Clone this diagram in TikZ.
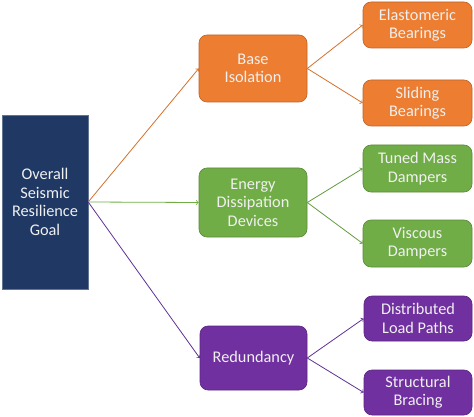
\documentclass[tikz,border=0pt]{standalone}
\usepackage{fontspec}
\setmainfont{Carlito}
\usepackage{tikz}
\definecolor{goalblue}{HTML}{1F3864}
\definecolor{isoorange}{HTML}{ED7D31}
\definecolor{dissgreen}{HTML}{70AD47}
\definecolor{redpurple}{HTML}{7030A0}

\begin{document}
\begin{tikzpicture}[x=1pt, y=-1pt,
	box/.style={rounded corners=8pt, align=center, text=white!94!black, line width=0.6pt,
		font=\fontsize{16.3}{18.4}\selectfont, inner sep=0pt},
	goalbox/.style={fill=goalblue, draw=goalblue!70!white, align=center, text=white!94!black,
		font=\fontsize{16.3}{18.4}\selectfont, minimum width=86pt, minimum height=174pt},
	isobox/.style={box, fill=isoorange, draw=isoorange!80!black},
	dissbox/.style={box, fill=dissgreen, draw=dissgreen!80!black},
	redbox/.style={box, fill=redpurple, draw=redpurple!80!black},
	link/.style={->, line width=0.8pt}]
			%%%%% START %%%%%
			
			\useasboundingbox[fill=white] (0, 0) rectangle (474, 417);
			
			\node[goalbox] (goal) at (45, 202) {Overall\\Seismic\\Resilience\\Goal};
			
			\node[isobox, minimum width=108pt, minimum height=67pt] (base) at (253, 68.5) {Base\\Isolation};
			\node[dissbox, minimum width=108pt, minimum height=69pt] (energy) at (253, 202.5) {Energy\\Dissipation\\Devices};
			\node[redbox, minimum width=107pt, minimum height=64pt] (redund) at (253.5, 358) {Redundancy};
			
			\node[isobox, minimum width=109pt, minimum height=46pt] (elasto) at (417.5, 25) {Elastomeric\\Bearings};
			\node[isobox, minimum width=109pt, minimum height=46pt] (sliding) at (417.5, 103) {Sliding\\Bearings};
			
			\node[dissbox, minimum width=109pt, minimum height=47pt] (tuned) at (417.5, 168.5) {Tuned Mass\\Dampers};
			\node[dissbox, minimum width=109pt, minimum height=47pt] (viscous) at (417.5, 243.5) {Viscous\\Dampers};
			
			\node[redbox, minimum width=108pt, minimum height=45pt] (loadpath) at (418, 318.5) {Distributed\\Load Paths};
			\node[redbox, minimum width=108pt, minimum height=45pt] (bracing) at (418, 392.5) {Structural\\Bracing};
			
			\draw[link, color=isoorange!90!black] (goal.east) -- (base.west);
			\draw[link, color=dissgreen] (goal.east) -- (energy.west);
			\draw[link, color=redpurple!80!goalblue] (goal.east) -- (redund.west);
			
			\draw[link, color=isoorange!90!black] (base.east) -- (elasto.west);
			\draw[link, color=isoorange!90!black] (base.east) -- (sliding.west);
			
			\draw[link, color=dissgreen!90!black] (energy.east) -- (tuned.west);
			\draw[link, color=dissgreen!90!black] (energy.east) -- (viscous.west);
			
			\draw[link, color=redpurple!80!goalblue] (redund.east) -- (loadpath.west);
			\draw[link, color=redpurple!80!goalblue] (redund.east) -- (bracing.west);
			
			%%%%% END %%%%%
		\end{tikzpicture}
\end{document}
